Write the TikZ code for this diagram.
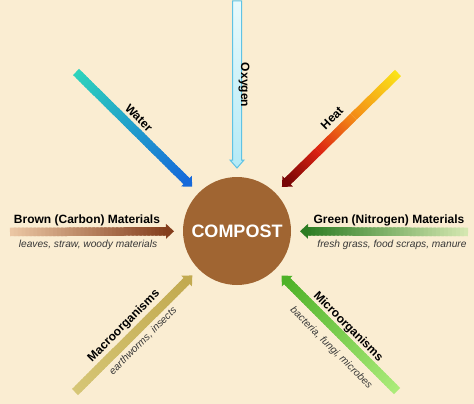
\documentclass[tikz,border=0pt]{standalone}
\usepackage{fontspec}
\setmainfont{Liberation Sans}
\usetikzlibrary{calc, positioning}

\definecolor{bgcream}{RGB}{250,237,210}
\definecolor{compostbrown}{RGB}{160,101,50}
\definecolor{subgray}{RGB}{55,55,55}
\definecolor{watertail}{RGB}{45,212,188}
\definecolor{waterhead}{RGB}{22,105,218}
\definecolor{oxyfilltop}{RGB}{232,250,252}
\definecolor{oxyfillbot}{RGB}{180,234,246}
\definecolor{oxyline}{RGB}{95,195,228}
\definecolor{heattail}{RGB}{250,228,25}
\definecolor{heatmid}{RGB}{244,140,22}
\definecolor{heatred}{RGB}{220,35,18}
\definecolor{heathead}{RGB}{120,6,6}
\definecolor{browntail}{RGB}{236,200,165}
\definecolor{brownhead}{RGB}{132,62,28}
\definecolor{greentail}{RGB}{214,232,178}
\definecolor{greenhead}{RGB}{45,125,35}
\definecolor{macrotail}{RGB}{214,198,118}
\definecolor{macrohead}{RGB}{194,170,80}
\definecolor{microtail}{RGB}{172,236,122}
\definecolor{microhead}{RGB}{78,178,40}

\tikzset{
  title/.style = {font = \bfseries\fontsize{12}{12}\selectfont, text = black,
    inner sep = 0},
  subtitle/.style = {font = \itshape\fontsize{10.2}{11}\selectfont,
    text = subgray, inner sep = 0},
  hub/.style = {
    circle, fill = compostbrown,
    minimum size = 108, inner sep = 0,
    text = white, font = \bfseries\fontsize{18}{18}\selectfont
  }
}

% shaft with colour running from #3 (at #1) to #4 (at #2)
\newcommand{\gradshaft}[4]{%
  \foreach \k in {0,...,39} {
    \pgfmathsetmacro{\ta}{\k/40}
    \pgfmathsetmacro{\tb}{min(1,(\k+1.6)/40)}
    \pgfmathsetmacro{\pc}{100*(\k+0.5)/40}
    \draw [line width = 8.5pt, color = #4!\pc!#3] ($(#1)!\ta!(#2)$) --
      ($(#1)!\tb!(#2)$);
  }
}
% head: base centre #1, tip #2
\newcommand{\gradhead}[3]{%
  \fill [#3] ($(#1)!7.5pt!90:(#2)$) -- (#2) -- ($(#1)!7.5pt!-90:(#2)$) --
    cycle;
}

\begin{document}
\begin{tikzpicture}[x = 1pt, y = -1pt]
      \fill [bgcream] (0, 0) rectangle (474, 404);
      \useasboundingbox (0, 0) rectangle (474, 404);

      \node [hub] (compost) at (237, 231) {COMPOST};

      % tails
      \coordinate (water-tail) at (76, 72);
      \coordinate (oxygen-tail) at (237, 1);
      \coordinate (heat-tail) at (398, 73);
      \coordinate (brown-tail) at (10, 232);
      \coordinate (green-tail) at (468, 232);
      \coordinate (macro-tail) at (75, 392);
      \coordinate (micro-tail) at (397, 391);

      % tips and necks
      \foreach \a in {water, oxygen, heat, brown, green, macro, micro} {
        \coordinate (\a-tip) at ($(compost.center)!63pt!(\a-tail)$);
        \coordinate (\a-neck) at ($(\a-tip)!8pt!(\a-tail)$);
        \coordinate (\a-joint) at ($(\a-tip)!7pt!(\a-tail)$);
      }
      \coordinate (heat-mid) at ($(heat-tail)!0.4!(heat-joint)$);
      \coordinate (heat-low) at ($(heat-tail)!0.72!(heat-joint)$);

      % water
      \gradshaft{water-tail}{water-joint}{watertail}{waterhead}
      \gradhead{water-neck}{water-tip}{waterhead}
      % heat
      \gradshaft{heat-tail}{heat-mid}{heattail}{heatmid}
      \gradshaft{heat-mid}{heat-low}{heatmid}{heatred}
      \gradshaft{heat-low}{heat-joint}{heatred}{heathead}
      \gradhead{heat-neck}{heat-tip}{heathead}
      % brown
      \gradshaft{brown-tail}{brown-joint}{browntail}{brownhead}
      \gradhead{brown-neck}{brown-tip}{brownhead}
      % green
      \gradshaft{green-tail}{green-joint}{greentail}{greenhead}
      \gradhead{green-neck}{green-tip}{greenhead}
      % macro
      \gradshaft{macro-tail}{macro-joint}{macrotail}{macrohead}
      \gradhead{macro-neck}{macro-tip}{macrohead}
      % micro
      \gradshaft{micro-tail}{micro-joint}{microtail}{microhead}
      \gradhead{micro-neck}{micro-tip}{microhead}
      % oxygen
      \shade [top color = oxyfilltop, bottom color = oxyfillbot, draw = oxyline,
        line width = 1pt, line join = miter]
        ($(oxygen-tail)+(-4.5, 0)$) -- ($(oxygen-neck)+(-4.5, 0)$) --
        ($(oxygen-neck)+(-7, 0)$) -- (oxygen-tip) --
        ($(oxygen-neck)+(7, 0)$) -- ($(oxygen-neck)+(4.5, 0)$) --
        ($(oxygen-tail)+(4.5, 0)$) -- cycle;

      % labels
      \node [title, rotate = -45] (water-label) at (139, 118) {Water};
      \node [title, rotate = -90] (oxygen-label) at (244, 85) {Oxygen};
      \node [title, rotate = 45] (heat-label) at (332, 118) {Heat};
      \node [title] (brown-label) at (87, 220) {Brown (Carbon) Materials};
      \node [subtitle] (brown-sub) at (88, 245)
        {leaves,\ straw,\ woody\ materials};
      \node [title] (green-label) at (389, 220) {Green (Nitrogen) Materials};
      \node [subtitle] (green-sub) at (392, 245)
        {fresh grass,\ food scraps,\ manure};
      \node [title, rotate = 45] (macro-label) at (124, 326) {Macroorganisms};
      \node [subtitle, rotate = 45] (macro-sub) at (143, 341)
        {earthworms,\ insects};
      \node [title, rotate = -45] (micro-label) at (348, 327) {Microorganisms};
      \node [subtitle, rotate = -45] (micro-sub) at (331, 348)
        {bacteria,\ fungi,\ microbes};
    \end{tikzpicture}
\end{document}
